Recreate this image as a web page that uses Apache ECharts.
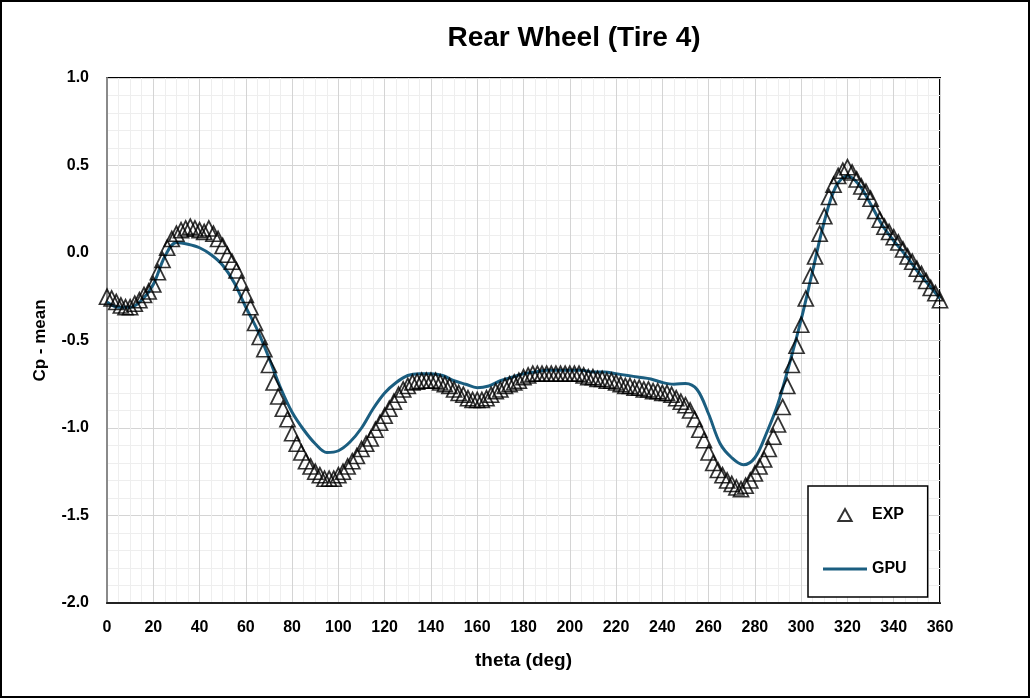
<!DOCTYPE html>
<html>
<head>
<meta charset="utf-8">
<script src="https://cdn.jsdelivr.net/npm/echarts@6/dist/echarts.min.js"></script>
<style>
html,body{margin:0;padding:0;background:#fff;}
#chart{width:1030px;height:698px;}
</style>
</head>
<body>
<div id="chart"></div>
<script>
// EXP measurements: theta every 2 deg from 0 to 360
const expTheta = [];
for (let t = 0; t <= 360; t += 2) expTheta.push(t);
const expCp = [
 -0.25,-0.26,-0.28,-0.30,-0.31,-0.31,-0.29,-0.27,-0.24,-0.22,
 -0.18,-0.11,-0.04,0.03,0.08,0.11,0.13,0.14,0.15,0.14,
 0.13,0.12,0.14,0.11,0.08,0.04,-0.01,-0.05,-0.10,-0.17,
 -0.24,-0.31,-0.40,-0.48,-0.55,-0.64,-0.74,-0.82,-0.89,-0.95,
 -1.03,-1.09,-1.14,-1.19,-1.22,-1.25,-1.27,-1.29,-1.29,-1.29,
 -1.27,-1.25,-1.22,-1.19,-1.16,-1.12,-1.09,-1.06,-1.01,-0.97,
 -0.93,-0.89,-0.85,-0.81,-0.78,-0.76,-0.74,-0.735,-0.73,-0.73,
 -0.73,-0.73,-0.74,-0.75,-0.76,-0.78,-0.80,-0.81,-0.83,-0.84,
 -0.84,-0.84,-0.83,-0.81,-0.79,-0.78,-0.76,-0.75,-0.74,-0.73,
 -0.71,-0.70,-0.69,-0.69,-0.69,-0.69,-0.69,-0.69,-0.69,-0.69,
 -0.69,-0.69,-0.69,-0.70,-0.71,-0.71,-0.72,-0.72,-0.73,-0.73,
 -0.74,-0.75,-0.76,-0.76,-0.77,-0.77,-0.78,-0.78,-0.79,-0.79,
 -0.80,-0.80,-0.81,-0.83,-0.85,-0.87,-0.90,-0.95,-1.01,-1.07,
 -1.14,-1.20,-1.24,-1.27,-1.30,-1.32,-1.34,-1.35,-1.33,-1.30,
 -1.26,-1.22,-1.18,-1.12,-1.05,-0.98,-0.88,-0.76,-0.64,-0.53,
 -0.41,-0.26,-0.13,-0.02,0.11,0.21,0.32,0.39,0.44,0.47,
 0.49,0.46,0.42,0.38,0.35,0.31,0.24,0.19,0.15,0.12,
 0.09,0.06,0.02,-0.02,-0.05,-0.09,-0.12,-0.16,-0.20,-0.23,
 -0.27
];
// GPU simulation: theta every 5 deg
const gpuTheta = [];
for (let t = 0; t <= 360; t += 5) gpuTheta.push(t);
const gpuCp = [
 -0.28,-0.31,-0.31,-0.27,-0.18,-0.02,0.06,0.05,0.03,-0.01,
 -0.07,-0.17,-0.31,-0.44,-0.60,-0.77,-0.91,-1.01,-1.09,-1.14,
 -1.13,-1.08,-1.00,-0.89,-0.80,-0.74,-0.70,-0.69,-0.69,-0.70,
 -0.73,-0.75,-0.77,-0.76,-0.73,-0.71,-0.69,-0.68,-0.67,-0.67,
 -0.67,-0.67,-0.68,-0.68,-0.69,-0.70,-0.71,-0.72,-0.74,-0.75,
 -0.745,-0.78,-0.92,-1.09,-1.17,-1.21,-1.17,-1.03,-0.86,-0.63,
 -0.38,-0.10,0.18,0.38,0.44,0.39,0.28,0.16,0.07,-0.01,
 -0.10,-0.18,-0.26
];
const xTicks = { min: 0, max: 360, interval: 20 };
const yTicks = { min: -2.0, max: 1.0, interval: 0.5 };
const chartTitle = 'Rear Wheel (Tire 4)';
const xName = 'theta (deg)';
const yName = 'Cp - mean';
const seriesNames = ['EXP', 'GPU'];

const FONT = '"Liberation Sans", Arial, sans-serif';
const chart = echarts.init(document.getElementById('chart'), null, { renderer: 'canvas' });
const expData = expTheta.map((t, i) => [t, expCp[i]]);
const gpuData = gpuTheta.map((t, i) => [t, gpuCp[i]]);

chart.setOption({
  backgroundColor: '#fff',
  animation: false,
  title: {
    text: chartTitle,
    left: 569, top: 19, textAlign: 'center',
    textStyle: { fontFamily: FONT, fontWeight: 'bold', fontSize: 28, color: '#000' }
  },
  graphic: [{
    type: 'rect', shape: { x: 1, y: 1, width: 1028, height: 696 },
    style: { fill: 'none', stroke: '#000', lineWidth: 2 }, silent: true, z: 100
  }],
  grid: { left: 107, right: 90, top: 78, bottom: 95, show: true, borderColor: '#000', borderWidth: 2, backgroundColor: '#fff' },
  xAxis: {
    type: 'value', min: xTicks.min, max: xTicks.max, interval: xTicks.interval,
    name: xName, nameLocation: 'middle', nameGap: 48,
    nameTextStyle: { fontFamily: FONT, fontWeight: 'bold', fontSize: 19, color: '#000' },
    axisLine: { show: true, onZero: false, lineStyle: { color: '#222', width: 2 } },
    axisTick: { show: false },
    axisLabel: { fontFamily: FONT, fontWeight: 'bold', fontSize: 16, color: '#000', margin: 17 },
    splitLine: { show: true, lineStyle: { color: '#d4d4d4', width: 1 } },
    minorTick: { show: false, splitNumber: 4 },
    minorSplitLine: { show: true, lineStyle: { color: '#eeeeee', width: 1 } }
  },
  yAxis: {
    type: 'value', min: yTicks.min, max: yTicks.max, interval: yTicks.interval,
    name: yName, nameLocation: 'middle', nameGap: 58, nameRotate: 90,
    nameTextStyle: { fontFamily: FONT, fontWeight: 'bold', fontSize: 17, color: '#000' },
    axisLine: { show: true, onZero: false, lineStyle: { color: '#8a8a8a', width: 2 } },
    axisTick: { show: false },
    axisLabel: { fontFamily: FONT, fontWeight: 'bold', fontSize: 16, color: '#000', margin: 18,
      formatter: v => v.toFixed(1) },
    splitLine: { show: true, lineStyle: { color: '#d4d4d4', width: 1 } },
    minorTick: { show: false, splitNumber: 5 },
    minorSplitLine: { show: true, lineStyle: { color: '#eeeeee', width: 1 } }
  },
  legend: {
    orient: 'vertical', left: 808, top: 486,
    padding: [21, 21, 20, 15], itemGap: 38, itemWidth: 44, itemHeight: 12,
    borderColor: '#000', borderWidth: 1.5, backgroundColor: '#fff',
    textStyle: { fontFamily: FONT, fontWeight: 'bold', fontSize: 16, color: '#000', padding: [0, 0, 0, 0] },
    data: [
      { name: seriesNames[0], icon: 'path://M5,0 L10,9 L0,9 Z', itemStyle: { color: 'rgba(255,255,255,0)', borderColor: '#000', borderWidth: 2 } },
      { name: seriesNames[1], icon: 'path://M0,0 L15,0 L15,1 L0,1 Z', itemStyle: { color: '#1b5e80', borderWidth: 0 } }
    ]
  },
  series: [
    {
      name: seriesNames[1], type: 'line', data: gpuData, smooth: 0.35, symbol: 'none',
      lineStyle: { color: '#1b5e80', width: 3 }, itemStyle: { color: '#1b5e80' }, z: 2
    },
    {
      name: seriesNames[0], type: 'scatter', data: expData, symbol: 'triangle', symbolSize: 15,
      itemStyle: { color: 'rgba(255,255,255,0)', borderColor: '#000', borderWidth: 1.7 }, z: 3, clip: false
    }
  ]
});
</script>
</body>
</html>
